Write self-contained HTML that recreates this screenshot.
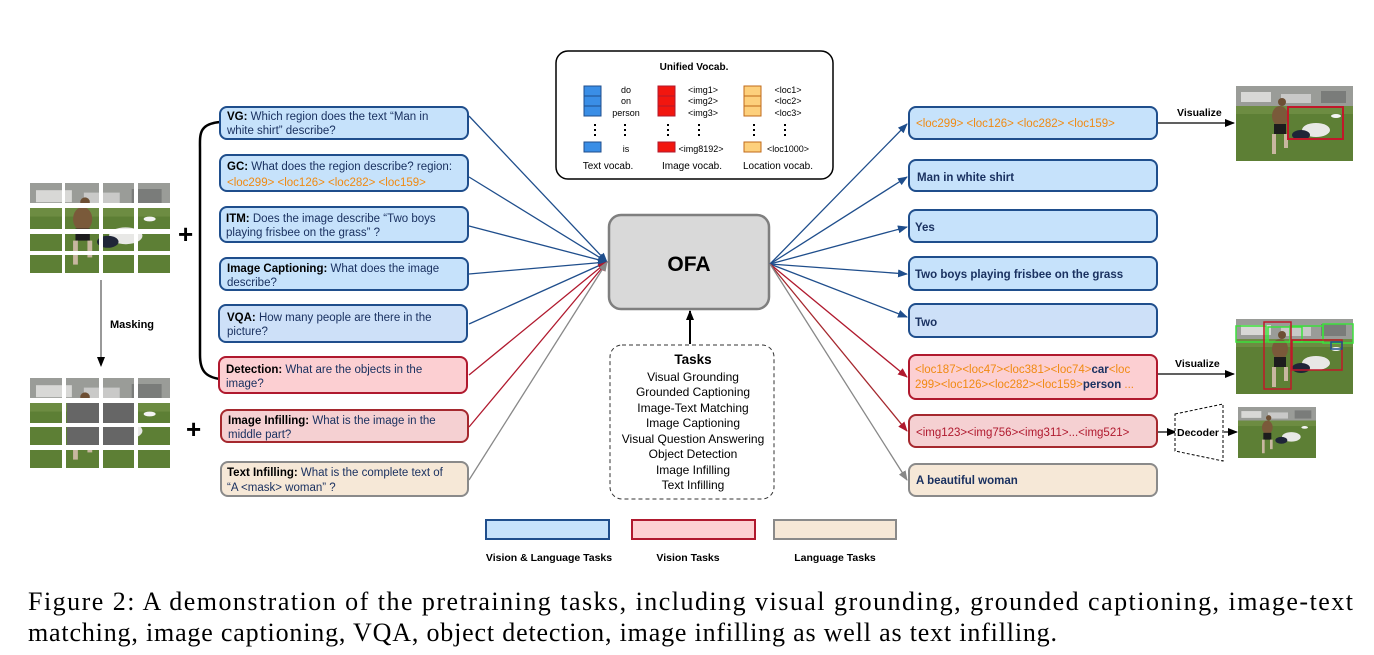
<!DOCTYPE html>
<html><head><meta charset="utf-8"><style>
html,body{margin:0;padding:0;background:#fff;}
svg{display:block;}
text{font-family:"Liberation Sans",sans-serif;}
</style></head><body>
<svg width="1374" height="655" viewBox="0 0 1374 655" xmlns="http://www.w3.org/2000/svg">
<defs>
<marker id="ab" markerWidth="10" markerHeight="8" refX="9" refY="4" orient="auto" markerUnits="userSpaceOnUse"><path d="M0,0 L10,4 L0,8 z" fill="#1f4e8c"/></marker>
<marker id="ar" markerWidth="10" markerHeight="8" refX="9" refY="4" orient="auto" markerUnits="userSpaceOnUse"><path d="M0,0 L10,4 L0,8 z" fill="#b0192e"/></marker>
<marker id="ag" markerWidth="10" markerHeight="8" refX="9" refY="4" orient="auto" markerUnits="userSpaceOnUse"><path d="M0,0 L10,4 L0,8 z" fill="#888"/></marker>
<marker id="ak" markerWidth="10" markerHeight="8" refX="9" refY="4" orient="auto" markerUnits="userSpaceOnUse"><path d="M0,0 L10,4 L0,8 z" fill="#000"/></marker>
<symbol id="photo" viewBox="0 0 117 75" preserveAspectRatio="none">
<rect width="117" height="75" fill="#5d7f35"/>
<rect width="117" height="20" fill="#9a9c98"/>
<rect x="5" y="6" width="30" height="10" fill="#d8d8d6"/>
<rect x="45" y="8" width="30" height="9" fill="#c9c9c8"/>
<rect x="85" y="5" width="25" height="12" fill="#7a7c7a"/>
<rect x="0" y="20" width="117" height="8" fill="#6d8c42"/>
<ellipse cx="44" cy="30" rx="8" ry="10" fill="#7a5a3a"/>
<rect x="38" y="38" width="12" height="10" fill="#1d1d1d"/>
<rect x="36" y="48" width="4" height="20" fill="#c8b7a0"/>
<rect x="48" y="48" width="4" height="14" fill="#c8b7a0"/>
<circle cx="46" cy="16" r="4" fill="#6d4f34"/>
<ellipse cx="80" cy="44" rx="14" ry="7" fill="#e8e8e6"/>
<ellipse cx="65" cy="49" rx="9" ry="5" fill="#1f2538"/>
<ellipse cx="100" cy="30" rx="5" ry="2" fill="#f4f4f4"/>
</symbol>
</defs>

<!-- left grids -->
<use href="#photo" x="30" y="183" width="140" height="90"/>
<g fill="#fff">
<rect x="62" y="180" width="3" height="96"/><rect x="99" y="180" width="4" height="96"/><rect x="134" y="180" width="4" height="96"/>
<rect x="28" y="203" width="145" height="5"/><rect x="28" y="229" width="145" height="5"/><rect x="28" y="251" width="145" height="4"/>
</g>
<use href="#photo" x="30" y="378" width="140" height="90"/>
<g fill="#fff">
<rect x="62" y="375" width="4" height="96"/><rect x="99" y="375" width="4" height="96"/><rect x="134" y="375" width="4" height="96"/>
<rect x="28" y="398" width="145" height="5"/><rect x="28" y="423" width="145" height="4"/><rect x="28" y="445" width="145" height="5"/>
</g>
<g fill="#666"><rect x="67" y="403" width="32" height="20"/><rect x="103" y="403" width="31" height="20"/><rect x="67" y="427" width="32" height="18"/><rect x="103" y="427" width="31" height="18"/></g>
<line x1="101" y1="280" x2="101" y2="366" stroke="#333" stroke-width="1" marker-end="url(#ak)"/>
<text x="110" y="328" font-size="11" font-weight="bold">Masking</text>
<text x="178" y="243" font-size="26" font-weight="bold">+</text>
<text x="186" y="438" font-size="26" font-weight="bold">+</text>
<path d="M220,122 C198,124 200,135 200,150 L200,355 C200,370 205,377 220,379" fill="none" stroke="#000" stroke-width="2.5"/>

<!-- left connectors -->
<g stroke-width="1.3" fill="none">
<line x1="469" y1="116" x2="607" y2="262" stroke="#1f4e8c" marker-end="url(#ab)"/>
<line x1="469" y1="177" x2="607" y2="262" stroke="#1f4e8c" marker-end="url(#ab)"/>
<line x1="469" y1="226" x2="607" y2="262" stroke="#1f4e8c" marker-end="url(#ab)"/>
<line x1="469" y1="274" x2="607" y2="262" stroke="#1f4e8c" marker-end="url(#ab)"/>
<line x1="469" y1="324" x2="607" y2="262" stroke="#1f4e8c" marker-end="url(#ab)"/>
<line x1="469" y1="375" x2="607" y2="262" stroke="#b0192e" marker-end="url(#ar)"/>
<line x1="469" y1="427" x2="607" y2="262" stroke="#b0192e" marker-end="url(#ar)"/>
<line x1="469" y1="480" x2="607" y2="262" stroke="#888" marker-end="url(#ag)"/>
</g>

<!-- left boxes -->
<g stroke-width="2">
<rect x="220" y="107" width="248" height="32" rx="7" fill="#c6e2fb" stroke="#1f4e8c"/>
<rect x="220" y="155" width="248" height="36" rx="7" fill="#c6e2fb" stroke="#1f4e8c"/>
<rect x="220" y="207" width="248" height="35" rx="7" fill="#c6e2fb" stroke="#1f4e8c"/>
<rect x="220" y="258" width="248" height="32" rx="7" fill="#c6e2fb" stroke="#1f4e8c"/>
<rect x="219" y="305" width="248" height="37" rx="7" fill="#cde0f8" stroke="#1f4e8c"/>
<rect x="219" y="357" width="248" height="36" rx="7" fill="#fccfd2" stroke="#b0192e"/>
<rect x="221" y="410" width="247" height="32" rx="7" fill="#f5d0d2" stroke="#a5282e"/>
<rect x="221" y="462" width="247" height="34" rx="7" fill="#f6e8d7" stroke="#8a8a8a"/>
</g>
<g font-size="11.5" fill="#1a3160">
<text x="227" y="120"><tspan font-weight="bold" fill="#000">VG:</tspan> Which region does the text “Man in</text>
<text x="227" y="134">white shirt” describe?</text>
<text x="227" y="170"><tspan font-weight="bold" fill="#000">GC:</tspan> What does the region describe? region:</text>
<text x="227" y="186" fill="#f08a12">&lt;loc299&gt; &lt;loc126&gt; &lt;loc282&gt; &lt;loc159&gt;</text>
<text x="226" y="222"><tspan font-weight="bold" fill="#000">ITM:</tspan> Does the image describe “Two boys</text>
<text x="226" y="236">playing frisbee on the grass” ?</text>
<text x="227" y="272"><tspan font-weight="bold" fill="#000">Image Captioning:</tspan> What does the image</text>
<text x="227" y="286">describe?</text>
<text x="227" y="321"><tspan font-weight="bold" fill="#000">VQA:</tspan> How many people are there in the</text>
<text x="227" y="335">picture?</text>
<text x="226" y="373"><tspan font-weight="bold" fill="#000">Detection:</tspan> What are the objects in the</text>
<text x="226" y="387">image?</text>
<text x="228" y="424"><tspan font-weight="bold" fill="#000">Image Infilling:</tspan> What is the image in the</text>
<text x="228" y="438">middle part?</text>
<text x="227" y="476"><tspan font-weight="bold" fill="#000">Text Infilling:</tspan> What is the complete text of</text>
<text x="227" y="491">“A &lt;mask&gt; woman” ?</text>
</g>

<!-- vocab box -->
<rect x="556" y="51" width="277" height="128" rx="12" fill="#fff" stroke="#000" stroke-width="1.5"/>
<text x="694" y="70" font-size="10" font-weight="bold" text-anchor="middle">Unified Vocab.</text>
<g stroke-width="1">
<rect x="584" y="86" width="17" height="10" fill="#3a8ee6" stroke="#1f4e8c"/><rect x="584" y="96" width="17" height="10" fill="#3a8ee6" stroke="#1f4e8c"/><rect x="584" y="106" width="17" height="10" fill="#3a8ee6" stroke="#1f4e8c"/><rect x="584" y="142" width="17" height="10" fill="#3a8ee6" stroke="#1f4e8c"/>
<rect x="658" y="86" width="17" height="10" fill="#f2160f" stroke="#b0192e"/><rect x="658" y="96" width="17" height="10" fill="#f2160f" stroke="#b0192e"/><rect x="658" y="106" width="17" height="10" fill="#f2160f" stroke="#b0192e"/><rect x="658" y="142" width="17" height="10" fill="#f2160f" stroke="#b0192e"/>
<rect x="744" y="86" width="17" height="10" fill="#fdd07c" stroke="#c06a1a"/><rect x="744" y="96" width="17" height="10" fill="#fdd07c" stroke="#c06a1a"/><rect x="744" y="106" width="17" height="10" fill="#fdd07c" stroke="#c06a1a"/><rect x="744" y="142" width="17" height="10" fill="#fdd07c" stroke="#c06a1a"/>
</g>
<g font-size="9" text-anchor="middle">
<text x="626" y="93">do</text><text x="626" y="104">on</text><text x="626" y="116">person</text><text x="626" y="152">is</text>
<text x="703" y="93">&lt;img1&gt;</text><text x="703" y="104">&lt;img2&gt;</text><text x="703" y="116">&lt;img3&gt;</text><text x="701" y="152">&lt;img8192&gt;</text>
<text x="788" y="93">&lt;loc1&gt;</text><text x="788" y="104">&lt;loc2&gt;</text><text x="788" y="116">&lt;loc3&gt;</text><text x="788" y="152">&lt;loc1000&gt;</text>
</g>
<g fill="#000">
<rect x="594" y="124" width="2" height="2"/><rect x="594" y="129" width="2" height="2"/><rect x="594" y="134" width="2" height="2"/>
<rect x="624" y="124" width="2" height="2"/><rect x="624" y="129" width="2" height="2"/><rect x="624" y="134" width="2" height="2"/>
<rect x="667" y="124" width="2" height="2"/><rect x="667" y="129" width="2" height="2"/><rect x="667" y="134" width="2" height="2"/>
<rect x="698" y="124" width="2" height="2"/><rect x="698" y="129" width="2" height="2"/><rect x="698" y="134" width="2" height="2"/>
<rect x="753" y="124" width="2" height="2"/><rect x="753" y="129" width="2" height="2"/><rect x="753" y="134" width="2" height="2"/>
<rect x="784" y="124" width="2" height="2"/><rect x="784" y="129" width="2" height="2"/><rect x="784" y="134" width="2" height="2"/>
</g>
<g font-size="10" text-anchor="middle"><text x="608" y="169">Text vocab.</text><text x="692" y="169">Image vocab.</text><text x="778" y="169">Location vocab.</text></g>

<!-- OFA -->
<rect x="609" y="215" width="160" height="94" rx="12" fill="#d9d9d9" stroke="#7f7f7f" stroke-width="2.5"/>
<text x="689" y="271" font-size="21" font-weight="bold" text-anchor="middle">OFA</text>
<line x1="690" y1="344" x2="690" y2="311" stroke="#000" stroke-width="2" marker-end="url(#ak)"/>
<rect x="610" y="345" width="164" height="154" rx="12" fill="#fff" stroke="#333" stroke-width="1" stroke-dasharray="4,3"/>
<g font-size="12" text-anchor="middle">
<text x="693" y="364" font-size="13.5" font-weight="bold">Tasks</text>
<text x="693" y="381">Visual Grounding</text>
<text x="693" y="396">Grounded Captioning</text>
<text x="693" y="412">Image-Text Matching</text>
<text x="693" y="427">Image Captioning</text>
<text x="693" y="443">Visual Question Answering</text>
<text x="693" y="458">Object Detection</text>
<text x="693" y="474">Image Infilling</text>
<text x="693" y="489">Text Infilling</text>
</g>

<!-- right connectors -->
<g stroke-width="1.3" fill="none">
<line x1="770" y1="264" x2="907" y2="124" stroke="#1f4e8c" marker-end="url(#ab)"/>
<line x1="770" y1="264" x2="907" y2="177" stroke="#1f4e8c" marker-end="url(#ab)"/>
<line x1="770" y1="264" x2="907" y2="227" stroke="#1f4e8c" marker-end="url(#ab)"/>
<line x1="770" y1="264" x2="907" y2="274" stroke="#1f4e8c" marker-end="url(#ab)"/>
<line x1="770" y1="264" x2="907" y2="317" stroke="#1f4e8c" marker-end="url(#ab)"/>
<line x1="770" y1="264" x2="907" y2="377" stroke="#b0192e" marker-end="url(#ar)"/>
<line x1="770" y1="264" x2="907" y2="431" stroke="#a5282e" marker-end="url(#ar)"/>
<line x1="770" y1="264" x2="907" y2="480" stroke="#888" marker-end="url(#ag)"/>
</g>
<g stroke-width="2">
<rect x="909" y="107" width="248" height="32" rx="7" fill="#c6e2fb" stroke="#1f4e8c"/>
<rect x="909" y="160" width="248" height="31" rx="7" fill="#c6e2fb" stroke="#1f4e8c"/>
<rect x="909" y="210" width="248" height="32" rx="7" fill="#c6e2fb" stroke="#1f4e8c"/>
<rect x="909" y="257" width="248" height="33" rx="7" fill="#c6e2fb" stroke="#1f4e8c"/>
<rect x="909" y="304" width="248" height="33" rx="7" fill="#cde0f8" stroke="#1f4e8c"/>
<rect x="909" y="355" width="248" height="44" rx="7" fill="#fccfd2" stroke="#b0192e"/>
<rect x="909" y="415" width="248" height="32" rx="7" fill="#f5d0d2" stroke="#a5282e"/>
<rect x="909" y="464" width="248" height="32" rx="7" fill="#f6e8d7" stroke="#8a8a8a"/>
</g>
<g font-size="11.5" font-weight="bold" fill="#1a3160">
<text x="916" y="127" fill="#f08a12" font-weight="normal">&lt;loc299&gt; &lt;loc126&gt; &lt;loc282&gt; &lt;loc159&gt;</text>
<text x="917" y="181">Man in white shirt</text>
<text x="915" y="231">Yes</text>
<text x="915" y="278">Two boys playing frisbee on the grass</text>
<text x="915" y="326">Two</text>
<text x="915" y="373" fill="#f08a12" font-weight="normal">&lt;loc187&gt;&lt;loc47&gt;&lt;loc381&gt;&lt;loc74&gt;<tspan fill="#1a3160" font-weight="bold">car</tspan>&lt;loc</text>
<text x="915" y="388" fill="#f08a12" font-weight="normal">299&gt;&lt;loc126&gt;&lt;loc282&gt;&lt;loc159&gt;<tspan fill="#1a3160" font-weight="bold">person</tspan> ...</text>
<text x="916" y="436" fill="#b0192e" font-weight="normal">&lt;img123&gt;&lt;img756&gt;&lt;img311&gt;...&lt;img521&gt;</text>
<text x="916" y="484">A beautiful woman</text>
</g>

<!-- visualize -->
<line x1="1158" y1="123" x2="1234" y2="123" stroke="#000" stroke-width="1.2" marker-end="url(#ak)"/>
<text x="1177" y="116" font-size="10.5" font-weight="bold">Visualize</text>
<use href="#photo" x="1236" y="86" width="117" height="75"/>
<rect x="1288" y="107" width="55" height="32" fill="none" stroke="#c0182a" stroke-width="2"/>
<line x1="1158" y1="374" x2="1234" y2="374" stroke="#000" stroke-width="1.2" marker-end="url(#ak)"/>
<text x="1175" y="367" font-size="10.5" font-weight="bold">Visualize</text>
<use href="#photo" x="1236" y="319" width="117" height="75"/>
<g fill="none" stroke-width="1.5">
<rect x="1236" y="326" width="30" height="16" stroke="#3de03d"/><rect x="1268" y="327" width="34" height="15" stroke="#3de03d"/><rect x="1290" y="326" width="33" height="16" stroke="#3de03d"/><rect x="1323" y="324" width="30" height="19" stroke="#3de03d"/>
<rect x="1264" y="322" width="27" height="67" stroke="#c0182a"/><rect x="1292" y="340" width="50" height="30" stroke="#c0182a"/>
<rect x="1331" y="342" width="11" height="7" stroke="#1f4e8c"/>
</g>
<line x1="1158" y1="432" x2="1176" y2="432" stroke="#000" stroke-width="1.2" marker-end="url(#ak)"/>
<path d="M1175,414 L1223,404 L1223,461 L1175,451 Z" fill="#fff" stroke="#000" stroke-width="1" stroke-dasharray="3,2"/>
<text x="1177" y="436" font-size="10.5" font-weight="bold">Decoder</text>
<line x1="1224" y1="432" x2="1237" y2="432" stroke="#000" stroke-width="1.2" marker-end="url(#ak)"/>
<use href="#photo" x="1238" y="407" width="78" height="51"/>

<!-- legend -->
<rect x="486" y="520" width="123" height="19" fill="#c6e2fb" stroke="#1f4e8c" stroke-width="2"/>
<rect x="632" y="520" width="123" height="19" fill="#fdd0d2" stroke="#b0192e" stroke-width="2"/>
<rect x="774" y="520" width="122" height="19" fill="#f6e8d7" stroke="#8a8a8a" stroke-width="2"/>
<g font-size="10.5" font-weight="bold" text-anchor="middle">
<text x="549" y="561">Vision &amp; Language Tasks</text>
<text x="688" y="561">Vision Tasks</text>
<text x="835" y="561">Language Tasks</text>
</g>

<!-- caption -->
<text x="28" y="610" font-size="26" textLength="1325" lengthAdjust="spacing" style="font-family:'Liberation Serif',serif">Figure 2: A demonstration of the pretraining tasks, including visual grounding, grounded captioning, image-text</text>
<text x="28" y="641" font-size="26" textLength="1029" lengthAdjust="spacing" style="font-family:'Liberation Serif',serif">matching, image captioning, VQA, object detection, image infilling as well as text infilling.</text>
</svg>
</body></html>
